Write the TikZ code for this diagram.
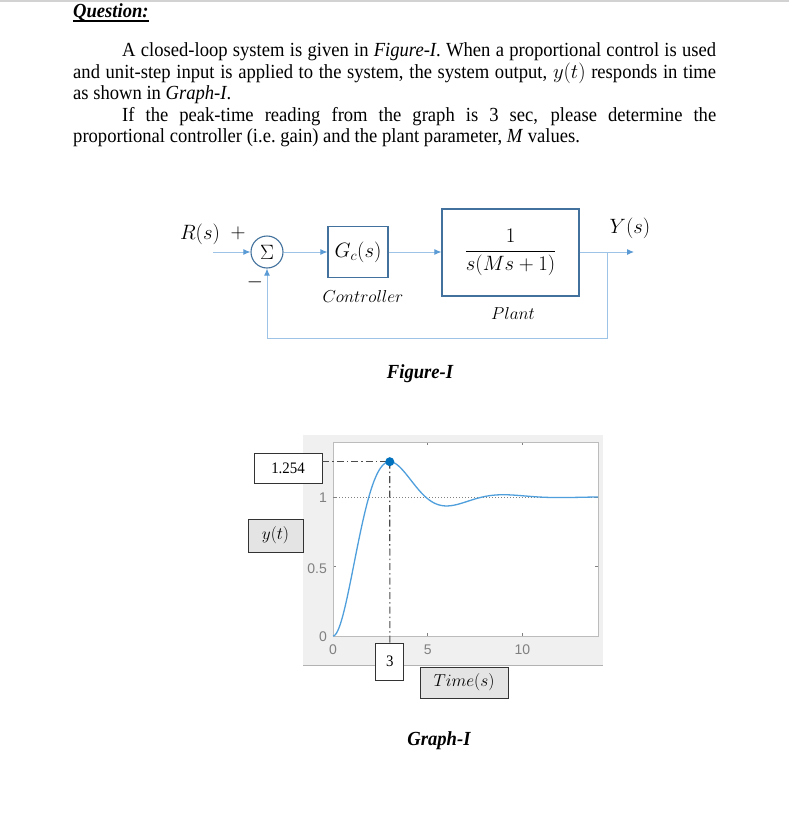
\documentclass[tikz,border=0pt]{standalone}
\usepackage{amsmath}
\usepackage{fontspec}
\setmainfont[FakeStretch=0.93]{Liberation Serif}
\setsansfont{Liberation Sans}
\usetikzlibrary{arrows.meta,calc}
\definecolor{boxblue}{HTML}{41719C}
\definecolor{lineblue}{HTML}{9DC3E6}
\definecolor{arrowblue}{HTML}{5B9BD5}
\definecolor{curveblue}{HTML}{4F9FDC}
\definecolor{dotblue}{HTML}{0072BD}
\definecolor{figbg}{HTML}{F0F0F0}
\definecolor{axgrey}{HTML}{BCBCBC}
\definecolor{tickgrey}{HTML}{808080}
\definecolor{labfill}{HTML}{E4E4E4}
\begin{document}
\begin{tikzpicture}[x=1pt,y=-1pt,
  bodytext/.style={anchor=base west,inner sep=0pt,font=\fontsize{20}{21.5}\selectfont},
  blk/.style={draw=boxblue,line width=1.1pt,inner sep=0pt},
  sig/.style={draw=lineblue,line width=1pt,-{Latex[length=7pt,width=6pt,color=arrowblue]}},
  mathlbl/.style={inner sep=0pt,font=\fontsize{21}{24}\selectfont},
  itlbl/.style={inner sep=0pt,font=\fontsize{17}{20}\selectfont},
  ticklbl/.style={inner sep=0pt,text=tickgrey,font=\sffamily\fontsize{14}{16}\selectfont},
  lblbox/.style={draw=black!80,line width=0.8pt,fill=white,inner sep=0pt},
  dashdot/.style={draw=black!70,line width=1.1pt,dash pattern=on 7pt off 3pt on 1.5pt off 3pt},
  captxt/.style={inner sep=0pt,anchor=base,font=\bfseries\itshape\fontsize{20}{22}\selectfont}
]
\useasboundingbox (0,0) rectangle (789,827);
\fill[white] (0,0) rectangle (789,827);
\draw[gray!35,line width=2pt] (0,1) -- (789,1);

% ---------- question text ----------
\node[bodytext] (q) at (73,17) {\textbf{\textit{Question:}}};
\draw[black,line width=1.3pt] (q.base west) ++(0,4) -- ($(q.base east)+(0,4)$);
\node[bodytext] (l1) at (122,56.5) {\makebox[594pt][s]{A closed-loop system is given in \textit{Figure-I}. When a proportional control is used}};
\node[bodytext] (l2) at (73,78) {\makebox[643pt][s]{and unit-step input is applied to the system, the system output, $y(t)$ responds in time}};
\node[bodytext] (l3) at (73,99.5) {as shown in \textit{Graph-I}.};
\node[bodytext] (l4) at (122,121) {\makebox[594pt][s]{If the peak-time reading from the graph is 3 sec, please determine the}};
\node[bodytext] (l5) at (73,142.5) {proportional controller (i.e.\ gain) and the plant parameter, \textit{M} values.};

% ---------- block diagram ----------
\node[mathlbl,anchor=center] (R) at (200,234) {$R(s)$};
\node[mathlbl,anchor=center] (plus) at (238,233) {$+$};
\node[mathlbl,anchor=center] (minus) at (255,282) {$-$};
\node[blk,circle,minimum size=32pt] (sum) at (267,252) {\fontsize{20}{22}\selectfont$\Sigma$};
\node[blk,minimum width=60pt,minimum height=51pt] (gc) at (358,252) {\fontsize{21}{24}\selectfont$G_c(s)$};
\node[itlbl] (ctrl) at (363,296) {$Controller$};
\node[blk,minimum width=137pt,minimum height=87pt] (plant) at (510.5,252.5) {\fontsize{21}{24}\selectfont$\dfrac{1}{s(Ms+1)}$};
\node[itlbl] (plbl) at (513,313) {$Plant$};
\node[mathlbl] (Y) at (630,228) {$Y(s)$};
\coordinate (in) at (213,252);
\coordinate (br) at (607,252);
\coordinate (out) at (634,252);
\coordinate (fb) at (607,338);
\draw[sig] (in) -- (sum.west);
\draw[sig] (sum.east) -- (gc.west);
\draw[sig] (gc.east) -- (plant.west |- gc.east);
\draw[sig] (plant.east |- br) -- (out);
\draw[sig] (br) -- (fb) -| (sum.south);

\node[captxt] (fig1) at (420,378) {Figure-I};

% ---------- graph ----------
\fill[figbg] (303,435) rectangle (603,665);
\draw[gray!60,line width=0.8pt] (303,665) -- (603,665);
\fill[white] (333,442) rectangle (598,636);
% ticks
\foreach \t in {5,10}{
  \draw[tickgrey,line width=0.6pt] ({333+18.93*\t},636) -- ++(0,-3);
  \draw[tickgrey,line width=0.6pt] ({333+18.93*\t},442) -- ++(0,3);
}
\foreach \v in {0.5,1}{
  \draw[tickgrey,line width=0.6pt] (333,{636-139*\v}) -- ++(3,0);
  \draw[tickgrey,line width=0.6pt] (598,{636-139*\v}) -- ++(-3,0);
}
\draw[axgrey,line width=0.8pt] (333,442) rectangle (598,636);
% tick labels
\node[ticklbl,anchor=east] (ty0) at (327,637) {0};
\node[ticklbl,anchor=east] (ty05) at (327,569) {0.5};
\node[ticklbl,anchor=east] (ty1) at (327,498) {1};
\node[ticklbl,anchor=north] (tx0) at (333,645) {0};
\node[ticklbl,anchor=north] (tx5) at ({333+18.93*5},645) {5};
\node[ticklbl,anchor=north] (tx10) at ({333+18.93*10},645) {10};
% reference line y=1
\draw[tickgrey,line width=0.9pt,dash pattern=on 1pt off 2pt] (333,497) -- (598,497);
% response curve
\draw[curveblue,line width=1.3pt] plot[domain=0:14,samples=220,smooth]
  ({333+18.93*\x},{636-139*(1-exp(-0.457*\x)*(cos(60*\x)+0.4364*sin(60*\x)))});
\coordinate (peak) at ({333+18.93*3},{636-139*1.254});
% label boxes
\node[lblbox,minimum width=68pt,minimum height=30pt] (n1254) at (288,468) {\fontsize{16}{18}\selectfont 1.254};
\node[lblbox,fill=labfill,minimum width=55pt,minimum height=33pt] (yt) at (275.5,535.5) {\fontsize{17}{19}\selectfont$y(t)$};
\node[lblbox,minimum width=28pt,minimum height=37pt] (three) at (389.8,661.5) {\fontsize{16}{18}\selectfont 3};
\node[lblbox,fill=labfill,minimum width=88pt,minimum height=31pt] (time) at (464,682.5) {\fontsize{17}{19}\selectfont$Time(s)$};
% dash-dot markers
\draw[dashdot] (n1254.east |- peak) -- (peak);
\draw[dashdot] (peak) -- (three.north);
\fill[dotblue] (peak) circle (4.5pt);

\node[captxt] (g1) at (439,745) {Graph-I};
\end{tikzpicture}
\end{document}
